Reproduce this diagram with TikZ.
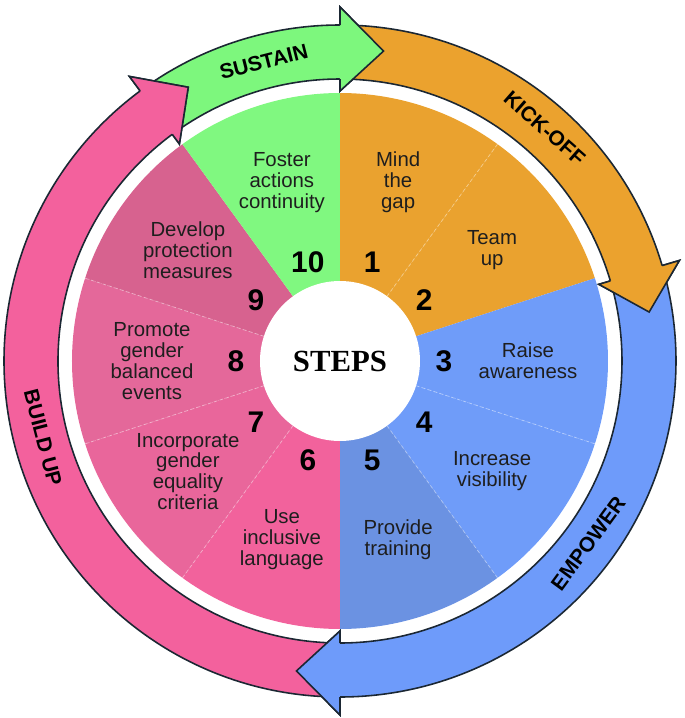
\documentclass[tikz,border=0pt]{standalone}
\usepackage{fontspec}
\setmainfont{Liberation Sans}
\newfontfamily\stepsfont{Liberation Serif}
\usepackage{tikz}
\definecolor{ink}{HTML}{1B2733}
\definecolor{txt}{HTML}{1E1E1E}
\definecolor{grn}{HTML}{80F880}
\definecolor{org}{HTML}{EAA22F}
\definecolor{blu}{HTML}{6F9CF9}
\definecolor{bludk}{HTML}{6B92E2}
\definecolor{pnka}{HTML}{F2629C}
\definecolor{pnkb}{HTML}{E9669B}
\definecolor{pnkc}{HTML}{E4689A}
\definecolor{pnkd}{HTML}{D7628F}
\definecolor{grnarr}{HTML}{7DF77D}
\definecolor{orgarr}{HTML}{EBA22E}
\definecolor{bluarr}{HTML}{6E9BFA}
\definecolor{pnkarr}{HTML}{F3619D}
\tikzset{
  band/.style={draw=ink, line width=0.9pt, line join=miter},
  bandlab/.style={text=black, font=\fontsize{11.9}{12}\selectfont\bfseries},
  steplab/.style={text=txt, align=center, font=\fontsize{11.6}{11.9}\selectfont},
  num/.style={text=black, font=\fontsize{17}{17}\selectfont\bfseries},
  divider/.style={draw=white, opacity=0.35, line width=0.5pt, dash pattern=on 2pt off 1.5pt},
}
% ring arrow: tail angle, head base angle, tip angle
\newcommand{\arrowpath}[3]{(#1:336) arc[start angle=#1, end angle=#2, radius=336] -- (#2:354) -- (#3:313) -- (#2:270) -- (#2:282) arc[start angle=#2, end angle=#1, radius=282] -- cycle}
\newcommand{\tipfill}[2]{(#1:336) -- (#1:354) -- (#2:313) -- (#1:270) -- (#1:282) -- cycle}
\newcommand{\tipedge}[2]{(#1:336) -- (#1:354) -- (#2:313) -- (#1:270) -- (#1:282)}

\begin{document}
\begin{tikzpicture}[x=0.02cm, y=0.02cm]
  \useasboundingbox (-340,-357) rectangle (345,361);

  % wedges
  \foreach \k/\wcol in {1/org,2/org,3/blu,4/blu,5/bludk,6/pnka,7/pnkb,8/pnkc,9/pnkd,10/grn}
    \fill[\wcol] (0,0) -- ({126-36*\k}:268) arc[start angle={126-36*\k}, end angle={90-36*\k}, radius=268] -- cycle;
  \foreach \a in {54,-18,-54,-126,-162,162}
    \draw[divider] (\a:80) -- (\a:268);
  \fill[white] (0,0) circle[radius=80];
  \node[font=\stepsfont\bfseries\fontsize{17.5}{18}\selectfont] (steps) at (0,0) {STEPS};

  \foreach \k in {1,...,10}
    \node[num] (n\k) at ({108-36*\k}:104) {\k};
  \foreach \k/\txt in {1/{Mind\\the\\gap}, 2/{Team\\up}, 3/{Raise\\awareness},
      4/{Increase\\visibility}, 5/{Provide\\training}, 6/{Use\\inclusive\\language},
      7/{Incorporate\\gender\\equality\\criteria}, 8/{Promote\\gender\\balanced\\events},
      9/{Develop\\protection\\measures}, 10/{Foster\\actions\\continuity}}
    \node[steplab] (s\k) at ({108-36*\k}:188) {\txt};

  % outer arrows, heads repainted on top of the next tail
  \filldraw[band, fill=grnarr] \arrowpath{125}{90}{82};
  \filldraw[band, fill=orgarr] \arrowpath{88.5}{16.5}{9};
  \filldraw[band, fill=bluarr] \arrowpath{15}{-90}{-98};
  \filldraw[band, fill=pnkarr] \arrowpath{268.5}{126.5}{119};
  \fill[grnarr] \tipfill{90}{82};
  \draw[band] \tipedge{90}{82};
  \fill[orgarr] \tipfill{16.5}{9};
  \draw[band] \tipedge{16.5}{9};
  \fill[bluarr] \tipfill{-90}{-98};
  \draw[band] \tipedge{-90}{-98};
  \fill[pnkarr] \tipfill{126.5}{119};
  \draw[band] \tipedge{126.5}{119};

  \node[bandlab, rotate=14.3] (sustain) at (104.3:309) {SUSTAIN};
  \node[bandlab, rotate=-41.3] (kickoff) at (48.7:310) {KICK-OFF};
  \node[bandlab, rotate=53.7] (empower) at (-36.3:308) {EMPOWER};
  \node[bandlab, rotate=-75.5] (buildup) at (194.5:307) {BUILD UP};
\end{tikzpicture}
\end{document}
